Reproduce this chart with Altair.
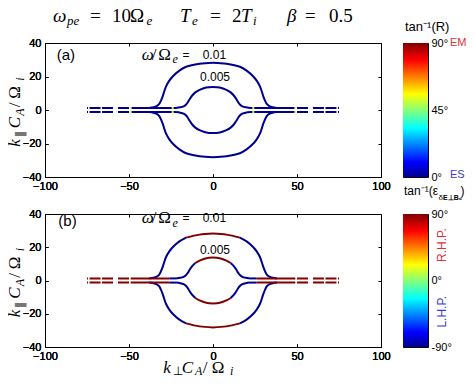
import altair as alt
import pandas as pd

# ---------------- data ----------------
# upper-right quadrant of the w/We = 0.01 contour
outer_x = [0, 8, 16, 20, 24, 26, 28, 29.2, 30, 31, 32, 33.5, 35.5, 38]
outer_y = [28.2, 27.6, 25.8, 23.5, 20, 17.5, 14, 10.5, 8, 5.5, 3.6, 2.3, 1.6, 1.25]
# upper-right quadrant of the w/We = 0.005 contour
inner_x = [0, 4, 8, 10.5, 12.5, 14, 15, 16, 17.5, 19.5, 22]
inner_y = [13.8, 13.4, 12, 10.5, 8.5, 6.3, 4.6, 3.3, 2.2, 1.6, 1.25]
# near-perpendicular branch
branch_y = 1.25
branch_solid = [22, 49]
branch_dashed = [[50, 57.5], [59.5, 75]]
speck_x = [[23.4, 24.6], [48.4, 49.6]]
speck_val = 52
# panel (a): tan^-1(R) ~ 0 (electrostatic) everywhere
es_val = 0
# panel (b): polarization +90 (R.H.P.) / -90 (L.H.P.)
rhp_val, lhp_val = 90, -90
outer_split_b = 2      # index in outer_x (x = 16)
inner_split_b = 3      # index in inner_x (x = 10.5)
branch_split_b = 26

x_ticks = [-100, -50, 0, 50, 100]
y_ticks = [-40, -20, 0, 20, 40]
cb_a_ticks = [0, 45, 90]
cb_b_ticks = [-90, 0, 90]

jet_offsets = [0, 0.111, 0.365, 0.619, 0.873, 1]
jet_colors = ["#00008F", "#0000FF", "#00FFFF", "#FFFF00", "#FF0000", "#800000"]

SANS = "Liberation Sans"
SERIF = "Liberation Serif"

# ---------------- build tables ----------------
rows_a, rows_b = [], []
seg_id = [0]


def add(rows, xs, ys, val, kind):
    for i, (x, y) in enumerate(zip(xs, ys)):
        rows.append({"x": x, "y": y, "seg": seg_id[0], "val": val, "kind": kind, "o": i})
    seg_id[0] += 1


for sx in (1, -1):
    for sy in (1, -1):
        ox = [sx * v for v in outer_x]
        oy = [sy * v for v in outer_y]
        ix = [sx * v for v in inner_x]
        iy = [sy * v for v in inner_y]
        by = [sy * branch_y, sy * branch_y]
        # panel a
        add(rows_a, ox, oy, es_val, "solid")
        add(rows_a, ix, iy, es_val, "solid")
        add(rows_a, [sx * branch_solid[0], sx * branch_solid[1]], by, es_val, "solid")
        for d in branch_dashed:
            add(rows_a, [sx * d[0], sx * d[1]], by, es_val, "dash")
        for s in speck_x:
            add(rows_a, [sx * s[0], sx * s[1]], by, speck_val, "speck")
        # panel b
        k = outer_split_b
        add(rows_b, ox[:k + 1], oy[:k + 1], rhp_val, "solid")
        add(rows_b, ox[k:], oy[k:], lhp_val, "solid")
        k = inner_split_b
        add(rows_b, ix[:k + 1], iy[:k + 1], rhp_val, "solid")
        add(rows_b, ix[k:], iy[k:], lhp_val, "solid")
        add(rows_b, [sx * branch_solid[0], sx * branch_split_b], by, lhp_val, "solid")
        add(rows_b, [sx * branch_split_b, sx * branch_solid[1]], by, rhp_val, "solid")
        for d in branch_dashed:
            add(rows_b, [sx * d[0], sx * d[1]], by, rhp_val, "dash")

df_a = pd.DataFrame(rows_a)
df_b = pd.DataFrame(rows_b)
ONE = pd.DataFrame({"z": [0]})


def T(s, x, y, size=11, font=SANS, style="normal", color="black", angle=0,
      align="left", baseline="alphabetic", weight="normal"):
    return alt.Chart(ONE).mark_text(
        text=s, font=font, fontSize=size, fontStyle=style, color=color,
        angle=angle, align=align, baseline=baseline, fontWeight=weight
    ).encode(x=alt.value(x), y=alt.value(y))


def panel(df, h, domain_pts):
    cscale = alt.Scale(domain=domain_pts, range=jet_colors)
    xs = alt.Scale(domain=[-100, 100], nice=False, zero=False)
    ys = alt.Scale(domain=[-40, 40], nice=False, zero=False)
    common = dict(domain=False, grid=False, tickSize=3, offset=-3, tickColor="black",
                  labelFont=SANS, labelFontSize=11, labelColor="black",
                  labelFlush=False, labelOverlap=False, title=None)
    xa = alt.Axis(orient="bottom", values=x_ticks, labelPadding=3, **common)
    ya = alt.Axis(orient="left", values=y_ticks, labelPadding=4, **common)
    xt = alt.Axis(orient="top", values=x_ticks, labels=False, **common)
    yr = alt.Axis(orient="right", values=y_ticks, labels=False, **common)
    base = alt.Chart(df).encode(
        x=alt.X("x:Q", scale=xs, axis=xa),
        y=alt.Y("y:Q", scale=ys, axis=ya),
        detail="seg:N",
        order="o:Q",
        color=alt.Color("val:Q", scale=cscale, legend=None),
    )
    solid = base.transform_filter(alt.datum.kind == "solid").mark_line(
        strokeWidth=2, interpolate="catmull-rom", strokeCap="butt")
    dash = base.transform_filter(alt.datum.kind == "dash").mark_line(
        strokeWidth=2, strokeDash=[11, 1.5], strokeCap="butt")
    speck = base.transform_filter(alt.datum.kind == "speck").mark_line(
        strokeWidth=2, strokeCap="butt")
    mirror = alt.Chart(df).mark_point(opacity=0).encode(
        x=alt.X("x:Q", scale=xs, axis=xt),
        y=alt.Y("y:Q", scale=ys, axis=yr),
    )
    return [solid, dash, speck, mirror]


def ytitle(h):
    c = h / 2 + 36.7
    parts = [("k", 0, False, "italic"), ("\u2225", 9.5, True, "normal"),
             ("C", 18.4, False, "italic"), ("A", 31, True, "italic"),
             ("/", 39.4, False, "normal"), ("\u03a9", 48, False, "normal"),
             ("i", 66, True, "italic")]
    out = []
    for s, off, sub, st in parts:
        out.append(T(s, -21.5 if sub else -25, c - off, size=12 if sub else 17,
                     font=SERIF, style=st, angle=270))
    return out


def omega_label(yb, y005):
    return [
        T("\u03c9", 96.7, yb, 17, SERIF, "italic"),
        T("/", 106.7, yb, 17, SERIF),
        T("\u03a9", 113.3, yb, 17, SERIF),
        T("e", 127.5, yb + 3.5, 12, SERIF, "italic"),
        T("=", 137.5, yb - 1, 12, SANS),
        T("0.01", 157.7, yb - 1, 12, SANS),
        T("0.005", 155, y005, 12, SANS),
    ]


HA, HB, W = 134, 133, 336
CANVAS_W, CANVAS_H = 458, 368
PAD_L, PAD_T = 37, 35

# ---------------- panel (a) ----------------
TB, SB = -21.5, -18  # title baseline / subscript baseline
title_parts = [
    T("\u03c9", 8, TB, 19, SERIF, "italic"),
    T("pe", 22, SB, 13, SERIF, "italic"),
    T("=", 45, TB, 19, SERIF),
    T("10", 67, TB, 19, SERIF),
    T("\u03a9", 85, TB, 19, SERIF),
    T("e", 101.5, SB, 13, SERIF, "italic"),
    T("T", 135, TB, 19, SERIF, "italic"),
    T("e", 147, SB, 13, SERIF, "italic"),
    T("=", 165, TB, 19, SERIF),
    T("2", 187, TB, 19, SERIF),
    T("T", 196, TB, 19, SERIF, "italic"),
    T("i", 208, SB, 13, SERIF, "italic"),
    T("\u03b2", 242, TB, 19, SERIF, "italic"),
    T("=", 260, TB, 19, SERIF),
    T("0.5", 284, TB, 19, SERIF),
]

panel_a = alt.layer(
    *panel(df_a, HA, [0, 10, 32.9, 55.7, 78.6, 90]),
    *title_parts, *ytitle(HA), *omega_label(16.5, 38.4),
    T("(a)", 11.7, 17.4, 15, SANS),
).resolve_axis(x="independent", y="independent").properties(width=W, height=HA)

# ---------------- panel (b) ----------------
xt_parts = [("k", 0, False, "italic"), ("\u22a5", 10, True, "normal"),
            ("C", 18.4, False, "italic"), ("A", 31.7, True, "italic"),
            ("/", 39.4, False, "normal"), ("\u03a9", 48.4, False, "normal"),
            ("i", 66.7, True, "italic")]
xtitle = [T(s, 118.3 + off, 161.3 if sub else 158.5, 12 if sub else 17, SERIF, st)
          for s, off, sub, st in xt_parts]

panel_b = alt.layer(
    *panel(df_b, HB, [-90, -70, -24.3, 21.4, 67.1, 90]),
    *xtitle, *ytitle(HB), *omega_label(9.3, 40),
    T("(b)", 13.3, 11.5, 15, SANS),
).resolve_axis(x="independent", y="independent").properties(width=W, height=HB)

# ---------------- colorbars ----------------
grad = alt.Gradient(
    gradient="linear", x1=0, x2=0, y1=1, y2=0,
    stops=[alt.GradientStop(color=c, offset=o) for o, c in zip(jet_offsets, jet_colors)])


def colorbar(lo, hi, ticks, h):
    d = pd.DataFrame({"lo": [lo], "hi": [hi]})
    return alt.Chart(d).mark_rect(color=grad).encode(
        x=alt.value(0), x2=alt.value(25),
        y=alt.Y("lo:Q", scale=alt.Scale(domain=[lo, hi], nice=False, zero=False),
                axis=alt.Axis(orient="right", values=ticks, labelExpr="datum.value + '\u00b0'",
                              ticks=False, domain=False, grid=False, title=None,
                              labelPadding=3, labelFont=SANS, labelFontSize=11,
                              labelColor="black", labelFlush=False)),
        y2="hi:Q",
    )


cb_a = alt.layer(
    colorbar(0, 90, cb_a_ticks, HA),
    T("tan\u207b\u00b9(R)", 2, -12, 13, SANS),
    T("EM", 47, 0, 11, SANS, color="#E0303A", baseline="middle"),
    T("ES", 47, 132, 11, SANS, color="#3A3ACF", baseline="middle"),
).properties(width=25, height=HA)

cb_b = alt.layer(
    colorbar(-90, 90, cb_b_ticks, HB),
    T("tan\u207b\u00b9(\u03b5", 1, -19, 12, SANS),
    T("\u03b4", 35.5, -14.5, 8, SANS),
    T("E\u22a5B\u2080", 40, -14.5, 7, SANS, weight="bold"),
    T(")", 57.5, -19, 12, SANS),
    T("R.H.P.", 38.7, 31, 12, SANS, color="#E0303A", angle=270, align="center", baseline="middle"),
    T("L.H.P.", 38.7, 97.7, 12, SANS, color="#3A3ACF", angle=270, align="center", baseline="middle"),
).properties(width=25, height=HB)

chart = alt.concat(
    panel_a, cb_a, panel_b, cb_b,
    columns=2, spacing={"row": 37, "column": 22}, bounds="flush",
).resolve_scale(color="independent", y="independent", x="independent").properties(
    autosize=alt.AutoSizeParams(type="none"),
    padding={"left": PAD_L, "top": PAD_T,
             "right": CANVAS_W - PAD_L, "bottom": CANVAS_H - PAD_T},
).configure_view(stroke="black", strokeWidth=1)

chart.save("out.html", embed_options={"renderer": "svg", "actions": False})
